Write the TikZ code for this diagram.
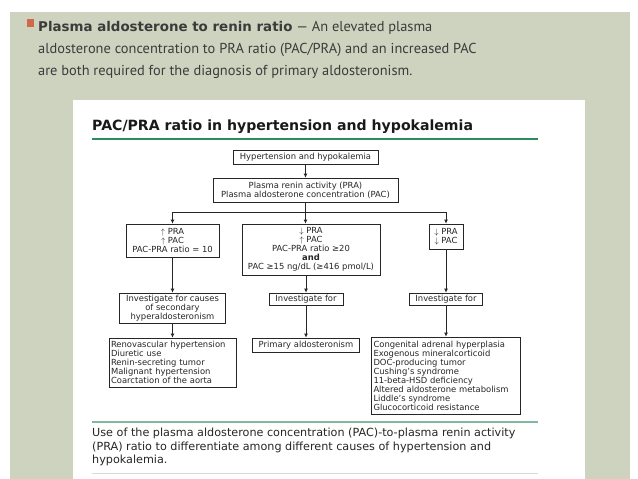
\documentclass[tikz,border=0pt]{standalone}
\usepackage{fontspec}
\setmainfont{DejaVu Sans}
\newfontfamily\ptsans{PT Sans}
\usetikzlibrary{arrows.meta}
\definecolor{panel}{HTML}{CDD3BF}
\definecolor{hdr}{HTML}{3B3B3B}
\definecolor{bul}{HTML}{D0684A}
\definecolor{grn}{HTML}{2E8B5E}
\begin{document}
\begin{tikzpicture}[x=1pt,y=-1pt,
  bx/.style={draw=black!85,line width=0.8pt,inner sep=1.5pt,align=center,font=\fontsize{8.4}{9}\selectfont\color{black!85}},
  arr/.style={-{Latex[length=4pt,width=4pt]},line width=0.8pt,black!85},
  ln/.style={line width=0.8pt,black!85},
  hd/.style={anchor=base west,inner sep=0,font=\ptsans\fontsize{14.4}{16}\selectfont,text=hdr}]
\useasboundingbox (0,0) rectangle (638,479);
\fill[white] (0,0) rectangle (638,479);
\fill[panel] (10,12) rectangle (630,479);
\fill[white] (73,100) rectangle (585,479);
\fill[bul] (27,19) rectangle (34,27);
\node[hd] (h1) at (38,31) {{\fontspec{DejaVu Sans Bold}\fontsize{13.4}{15}\selectfont Plasma aldosterone to renin ratio} — An elevated plasma};
\node[hd] (h2) at (38,53) {aldosterone concentration to PRA ratio (PAC/PRA) and an increased PAC};
\node[hd] (h3) at (38,75) {are both required for the diagnosis of primary aldosteronism.};
\node[anchor=base west,inner sep=0,font=\bfseries\fontsize{14.1}{16}\selectfont,text=black!90] (title) at (92,130) {PAC/PRA ratio in hypertension and hypokalemia};
\draw[grn,line width=2pt] (92,139) -- (538,139);
\node[bx,minimum width=145pt,minimum height=14pt] (hyp) at (305.5,157) {Hypertension and hypokalemia};
\node[bx,minimum width=185pt,minimum height=24pt] (pl) at (305.5,190) {Plasma renin activity (PRA)\\Plasma aldosterone concentration (PAC)};
\node[bx,minimum width=93pt,minimum height=33pt] (L) at (172.5,240.5) {$\uparrow$ PRA\\$\uparrow$ PAC\\PAC-PRA ratio = 10};
\node[bx,minimum width=138pt,minimum height=51pt] (M) at (311,249.5) {$\downarrow$ PRA\\$\uparrow$ PAC\\PAC-PRA ratio ≥20\\\textbf{and}\\PAC ≥15 ng/dL (≥416 pmol/L)};
\node[bx,minimum width=34pt,minimum height=25pt] (R) at (446,236.5) {$\downarrow$ PRA\\$\downarrow$ PAC};
\node[bx,minimum width=106pt,minimum height=30pt] (IL) at (172.5,308) {Investigate for causes\\of secondary\\hyperaldosteronism};
\node[bx,minimum width=74pt,minimum height=12pt] (IM) at (306,299) {Investigate for};
\node[bx,minimum width=73pt,minimum height=12pt] (IR) at (446,299) {Investigate for};
\node[bx,minimum width=127pt,minimum height=49pt,align=left,text width=123pt] (BL) at (172.5,362.5) {Renovascular hypertension\\Diuretic use\\Renin-secreting tumor\\Malignant hypertension\\Coarctation of the aorta};
\node[bx,minimum width=107pt,minimum height=14pt] (BM) at (306,345) {Primary aldosteronism};
\node[bx,minimum width=149pt,minimum height=77pt,align=left,text width=145pt] (BR) at (446,375.5) {Congenital adrenal hyperplasia\\Exogenous mineralcorticoid\\DOC-producing tumor\\Cushing's syndrome\\11-beta-HSD deficiency\\Altered aldosterone metabolism\\Liddle's syndrome\\Glucocorticoid resistance};
\coordinate (j) at (305.5,212);
\coordinate (jl) at (172.5,212);
\coordinate (jr) at (446,212);
\draw[arr] (hyp) -- (pl);
\draw[ln] (pl.south) -- (j);
\draw[ln] (jl) -- (jr);
\draw[arr] (jl) -- (L.north);
\draw[arr] (j) -- (j |- M.north);
\draw[arr] (jr) -- (R.north);
\draw[arr] (L) -- (IL);
\draw[arr] (M.south -| IM) -- (IM);
\draw[arr] (R) -- (IR);
\draw[arr] (IL) -- (BL);
\draw[arr] (IM) -- (BM);
\draw[arr] (IR) -- (BR);
\draw[grn!60,line width=1.2pt] (92,422) -- (538,422);
\node[anchor=north west,inner sep=0,align=left,font=\fontsize{11.2}{13.5}\selectfont,text=black!85] (cap) at (92,428) {Use of the plasma aldosterone concentration (PAC)-to-plasma renin activity\\(PRA) ratio to differentiate among different causes of hypertension and\\hypokalemia.};
\draw[black!15,line width=1pt] (92,473) -- (538,473);
\end{tikzpicture}
\end{document}
